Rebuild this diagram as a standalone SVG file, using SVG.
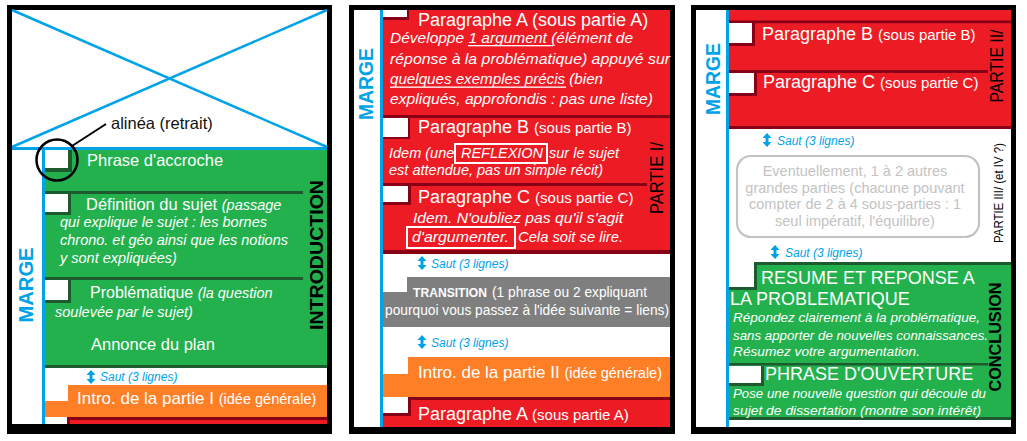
<svg xmlns="http://www.w3.org/2000/svg" width="1027" height="441" viewBox="0 0 1027 441">
<style>
text{font-family:"Liberation Sans",Arial,sans-serif}
.wt{fill:#fff}
.it{font-style:italic}
.bd{font-weight:bold}
.saut{fill:#00a2e8;font-style:italic;font-size:12px}
.marge{fill:#00a2e8;font-weight:bold;font-size:20px}
.red{fill:#ed1c24}.dred{fill:#880015}
.grn{fill:#22b14c}.dgrn{fill:#1d5b2f}
.org{fill:#ff7f27}.gry{fill:#7f7f7f}
.blu{fill:#00a2e8}
.box{fill:#fff}
.frame{fill:#000}
</style>
<defs>
<path id="dbl" d="M0,0 l-4.5,5 h3 v4 h-3 l4.5,5 l4.5,-5 h-3 v-4 h3 z" fill="#00a2e8"/>
</defs>
<rect width="1027" height="441" fill="#fff"/>

<!-- PANEL 1 -->
<g id="panel1">
<rect class="frame" x="7" y="5" width="325" height="429"/>
<rect fill="#fff" x="12" y="10" width="315" height="414"/>
<g id="p1-titlepage">
<line x1="12" y1="10" x2="327" y2="147" stroke="#00a2e8" stroke-width="2.5"/>
<line x1="327" y1="10" x2="12" y2="147" stroke="#00a2e8" stroke-width="2.5"/>
<rect class="blu" x="12" y="147" width="315" height="3"/>
</g>
<rect class="blu" x="42" y="147" width="3" height="277"/>
<g id="p1-marge"><text class="marge" transform="translate(33,285) rotate(-90)" text-anchor="middle" textLength="75" lengthAdjust="spacingAndGlyphs">MARGE</text></g>
<g id="p1-introduction">
<rect class="grn" x="45" y="150" width="282" height="216"/>
<rect class="dgrn" x="45" y="365" width="282" height="3"/>
<rect class="dgrn" x="45" y="191" width="258" height="3"/>
<rect class="dgrn" x="45" y="277" width="258" height="3"/>
<text class="bd" transform="translate(323,255) rotate(-90)" text-anchor="middle" font-size="18.5" textLength="150" lengthAdjust="spacingAndGlyphs">INTRODUCTION</text>
</g>
<g id="p1-accroche">
<rect class="dgrn" x="45" y="150" width="27" height="22"/>
<rect class="box" x="45" y="150" width="23" height="18"/>
<text class="wt" x="87" y="166" font-size="16.5">Phrase d'accroche</text>
</g>
<g id="p1-definition">
<rect class="dgrn" x="45" y="194" width="26" height="21"/>
<rect class="box" x="45" y="194" width="23" height="18"/>
<text class="wt" x="86" y="210" font-size="16.5">Définition du sujet <tspan class="it" font-size="14.5">(passage</tspan></text>
<text class="wt it" x="60" y="227" font-size="14.5" textLength="207" lengthAdjust="spacingAndGlyphs">qui explique le sujet : les bornes</text>
<text class="wt it" x="60" y="245" font-size="14.5" textLength="228" lengthAdjust="spacingAndGlyphs">chrono. et géo ainsi que les notions</text>
<text class="wt it" x="60" y="263" font-size="14.5">y sont expliquées)</text>
</g>
<g id="p1-problematique">
<rect class="dgrn" x="45" y="280" width="26" height="23"/>
<rect class="box" x="45" y="280" width="23" height="20"/>
<text class="wt" x="90" y="298" font-size="16">Problématique <tspan class="it" font-size="14.5">(la question</tspan></text>
<text class="wt it" x="55" y="317" font-size="14.5">soulevée par le sujet)</text>
</g>
<g id="p1-annonce">
<text class="wt" x="91" y="350" font-size="16.5">Annonce du plan</text>
</g>
<g id="p1-saut">
<use href="#dbl" x="91" y="370"/>
<text class="saut" x="100" y="381">Saut (3 lignes)</text>
</g>
<g id="p1-intro-partie1">
<path class="org" d="M68,385 H327 V417 H45 V401 H68 Z"/>
<text class="wt" x="77" y="404" font-size="17">Intro. de la partie I <tspan font-size="14.5">(idée générale)</tspan></text>
</g>
<g id="p1-red">
<rect class="dred" x="67" y="417" width="260" height="7"/>
<rect class="red" x="70" y="420" width="257" height="4"/>
</g>
<g id="p1-alinea">
<circle cx="57" cy="160" r="20.5" fill="none" stroke="#000" stroke-width="2.5"/>
<text x="111" y="129" font-size="16.5" fill="#111">alinéa (retrait)</text>
</g>
</g>

<!-- PANEL 2 -->
<g id="panel2">
<rect class="frame" x="349" y="5" width="326" height="429"/>
<rect fill="#fff" x="354" y="10" width="316" height="417"/>
<rect class="blu" x="380" y="10" width="3" height="417"/>
<g id="p2-marge"><text class="marge" transform="translate(373,84) rotate(-90)" text-anchor="middle" textLength="72" lengthAdjust="spacingAndGlyphs">MARGE</text></g>
<g id="p2-partie1">
<rect class="red" x="383" y="10" width="287" height="241"/>
<rect class="dred" x="383" y="115" width="287" height="3"/>
<rect class="dred" x="383" y="183" width="264" height="3"/>
<rect class="dred" x="383" y="250" width="287" height="4"/>
<text transform="translate(663,178) rotate(-90)" text-anchor="middle" font-size="18" textLength="72" lengthAdjust="spacingAndGlyphs">PARTIE I/</text>
</g>
<g id="p2-paraA">
<rect class="dred" x="383" y="10" width="26" height="10"/>
<rect class="box" x="383" y="10" width="24" height="7"/>
<text class="wt" x="418" y="26" font-size="18">Paragraphe A (sous partie A)</text>
<text class="wt it" x="390" y="43" font-size="15.5" textLength="243" lengthAdjust="spacingAndGlyphs">Développe 1 argument (élément de</text>
<rect class="box" x="468" y="45" width="85" height="1.3"/>
<text class="wt it" x="390" y="64" font-size="15.5" textLength="280" lengthAdjust="spacingAndGlyphs">réponse à la problématique) appuyé sur</text>
<text class="wt it" x="390" y="84" font-size="15.5" textLength="213" lengthAdjust="spacingAndGlyphs">quelques exemples précis (bien</text>
<rect class="box" x="390" y="86.5" width="176" height="1.3"/>
<text class="wt it" x="390" y="104" font-size="15.5" textLength="263" lengthAdjust="spacingAndGlyphs">expliqués, approfondis : pas une liste)</text>
</g>
<g id="p2-paraB">
<rect class="dred" x="383" y="118" width="27" height="21"/>
<rect class="box" x="383" y="118" width="25" height="19"/>
<text class="wt" x="418" y="133" font-size="18">Paragraphe B <tspan font-size="15">(sous partie B)</tspan></text>
<text class="wt it" x="389" y="158" font-size="14.5">Idem (une</text>
<rect x="455" y="144" width="92" height="19" fill="none" stroke="#fff" stroke-width="2"/>
<text class="wt it" x="461" y="158" font-size="14.5" textLength="82" lengthAdjust="spacingAndGlyphs">REFLEXION</text>
<text class="wt it" x="549" y="158" font-size="14.5">sur le sujet</text>
<text class="wt it" x="389" y="175" font-size="14.5" textLength="214" lengthAdjust="spacingAndGlyphs">est attendue, pas un simple récit)</text>
</g>
<g id="p2-paraC">
<rect class="dred" x="383" y="186" width="28" height="19"/>
<rect class="box" x="383" y="186" width="25" height="16"/>
<text class="wt" x="418" y="203" font-size="18">Paragraphe C <tspan font-size="15">(sous partie C)</tspan></text>
<text class="wt it" x="413" y="223" font-size="15.5" textLength="210" lengthAdjust="spacingAndGlyphs">Idem. N'oubliez pas qu'il s'agit</text>
<rect x="407" y="227" width="108" height="21" fill="none" stroke="#fff" stroke-width="2"/>
<text class="wt it" x="412" y="242" font-size="15.5" textLength="97" lengthAdjust="spacingAndGlyphs">d'argumenter.</text>
<text class="wt it" x="518" y="242" font-size="15.5" textLength="105" lengthAdjust="spacingAndGlyphs">Cela soit se lire.</text>
</g>
<g id="p2-saut1">
<use href="#dbl" x="422" y="256"/>
<text class="saut" x="431" y="268">Saut (3 lignes)</text>
</g>
<g id="p2-transition">
<path class="gry" d="M407,277 H670 V327 H383 V292 H407 Z"/>
<text class="wt bd" x="413" y="297" font-size="13.5" textLength="74" lengthAdjust="spacingAndGlyphs">TRANSITION</text>
<text class="wt" x="492" y="297" font-size="14.5" textLength="155" lengthAdjust="spacingAndGlyphs">(1 phrase ou 2 expliquant</text>
<text class="wt" x="385" y="315" font-size="14.5" textLength="284" lengthAdjust="spacingAndGlyphs">pourquoi vous passez à l'idée suivante = liens)</text>
</g>
<g id="p2-saut2">
<use href="#dbl" x="422" y="335"/>
<text class="saut" x="431" y="347">Saut (3 lignes)</text>
</g>
<g id="p2-intro-partie2">
<path class="org" d="M408,357 H670 V397 H383 V374 H408 Z"/>
<text class="wt" x="418" y="378" font-size="17">Intro. de la partie II <tspan font-size="14.5">(idée générale)</tspan></text>
</g>
<g id="p2-paraA2">
<rect class="dred" x="408" y="397" width="262" height="3"/>
<rect class="dred" x="408" y="397" width="3" height="19"/>
<rect class="dred" x="383" y="413" width="28" height="3"/>
<rect class="red" x="411" y="400" width="259" height="27"/>
<rect class="red" x="383" y="416" width="28" height="11"/>
<text class="wt" x="418" y="420" font-size="18">Paragraphe A <tspan font-size="15">(sous partie A)</tspan></text>
</g>
</g>

<!-- PANEL 3 -->
<g id="panel3">
<rect class="frame" x="691" y="5" width="325" height="429"/>
<rect fill="#fff" x="696" y="10" width="315" height="417"/>
<rect class="blu" x="726" y="10" width="3" height="417"/>
<g id="p3-marge"><text class="marge" transform="translate(720,79) rotate(-90)" text-anchor="middle" textLength="72" lengthAdjust="spacingAndGlyphs">MARGE</text></g>
<g id="p3-partie2">
<rect class="red" x="729" y="10" width="282" height="117"/>
<rect class="dred" x="729" y="126" width="282" height="3"/>
<rect class="dred" x="729" y="20.5" width="282" height="2.7"/>
<rect class="dred" x="729" y="70" width="259" height="3"/>
<text transform="translate(1003,66) rotate(-90)" text-anchor="middle" font-size="18" textLength="73" lengthAdjust="spacingAndGlyphs">PARTIE II/</text>
</g>
<g id="p3-paraB">
<rect class="dred" x="729" y="23" width="26" height="23"/>
<rect class="box" x="729" y="23" width="23" height="20"/>
<text class="wt" x="762" y="40" font-size="18">Paragraphe B <tspan font-size="15">(sous partie B)</tspan></text>
</g>
<g id="p3-paraC">
<rect class="dred" x="729" y="73" width="28" height="23"/>
<rect class="box" x="729" y="73" width="25" height="20"/>
<text class="wt" x="763" y="88" font-size="18">Paragraphe C <tspan font-size="15">(sous partie C)</tspan></text>
</g>
<g id="p3-saut1">
<use href="#dbl" x="767" y="133"/>
<text class="saut" x="777" y="145">Saut (3 lignes)</text>
</g>
<g id="p3-autres">
<rect x="737" y="156" width="242" height="81" rx="14" fill="#fff" stroke="#c3c3c3" stroke-width="2.2"/>
<g fill="#c3c3c3" font-size="14.5" text-anchor="middle">
<text x="855" y="176">Eventuellement, 1 à 2 autres</text>
<text x="855" y="193">grandes parties (chacune pouvant</text>
<text x="855" y="209">compter de 2 à 4 sous-parties : 1</text>
<text x="855" y="226">seul impératif, l'équilibre)</text>
</g>
<text transform="translate(1003,193) rotate(-90)" text-anchor="middle" font-size="13" textLength="100" lengthAdjust="spacingAndGlyphs">PARTIE III/ (et IV ?)</text>
</g>
<g id="p3-saut2">
<use href="#dbl" x="775" y="245"/>
<text class="saut" x="785" y="257">Saut (3 lignes)</text>
</g>
<g id="p3-conclusion">
<rect class="dgrn" x="754" y="262" width="257" height="3"/>
<rect class="dgrn" x="754" y="262" width="3" height="28"/>
<rect class="dgrn" x="729" y="287" width="28" height="3"/>
<rect class="grn" x="757" y="265" width="254" height="152"/>
<rect class="grn" x="729" y="290" width="28" height="127"/>
<rect class="dgrn" x="729" y="417" width="282" height="3"/>
<rect class="dgrn" x="729" y="363" width="259" height="2.5"/>
<text class="bd" transform="translate(1001,337) rotate(-90)" text-anchor="middle" font-size="16" textLength="109" lengthAdjust="spacingAndGlyphs">CONCLUSION</text>
</g>
<g id="p3-resume">
<text class="wt" x="761" y="284" font-size="18">RESUME ET REPONSE A</text>
<text class="wt" x="730" y="305" font-size="18">LA PROBLEMATIQUE</text>
<text class="wt it" x="733" y="322" font-size="13.5" textLength="247" lengthAdjust="spacingAndGlyphs">Répondez clairement à la problématique,</text>
<text class="wt it" x="733" y="340" font-size="13.5" textLength="255" lengthAdjust="spacingAndGlyphs">sans apporter de nouvelles connaissances.</text>
<text class="wt it" x="733" y="356" font-size="13.5" textLength="187" lengthAdjust="spacingAndGlyphs">Résumez votre argumentation.</text>
</g>
<g id="p3-ouverture">
<rect class="dgrn" x="729" y="366" width="35" height="20"/>
<rect class="box" x="729" y="366" width="32" height="17"/>
<text class="wt" x="765" y="380" font-size="18">PHRASE D'OUVERTURE</text>
<text class="wt it" x="733" y="398" font-size="13.5" textLength="253" lengthAdjust="spacingAndGlyphs">Pose une nouvelle question qui découle du</text>
<text class="wt it" x="733" y="415" font-size="13.5" textLength="248" lengthAdjust="spacingAndGlyphs">sujet de dissertation (montre son intérêt)</text>
</g>
</g>

<g id="connectors">
<line x1="72" y1="146" x2="106" y2="124" stroke="#000" stroke-width="2"/>
</g>
</svg>
